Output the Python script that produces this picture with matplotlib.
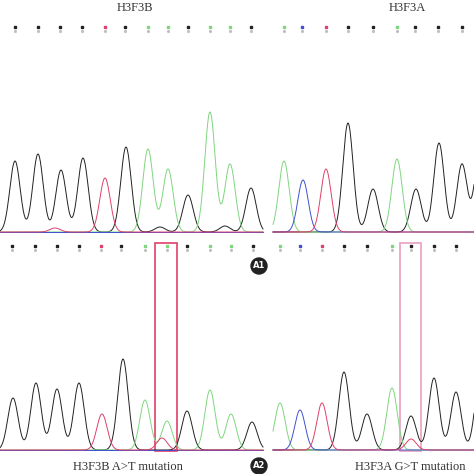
import numpy as np
import matplotlib
matplotlib.use("Agg")
import matplotlib.pyplot as plt
from matplotlib.patches import Rectangle, Circle

COL = {"k": "#222222", "r": "#e0406a", "g": "#7fd67f", "b": "#4050d0"}

# ── base-call dots (x, colour) ────────────────────────────────────────────────
dots1 = [(15,"k"),(38,"k"),(60,"k"),(82,"k"),(105,"r"),(125,"k"),(148,"g"),(168,"g"),(188,"k"),(210,"g"),(230,"g"),(251,"k"),
         (284,"g"),(302,"b"),(326,"r"),(348,"k"),(373,"k"),(397,"g"),(415,"k"),(438,"k"),(462,"k")]
dots2 = [(12,"k"),(35,"k"),(57,"k"),(79,"k"),(101,"r"),(121,"k"),(145,"g"),(167,"g"),(187,"k"),(210,"g"),(231,"g"),(253,"k"),
         (280,"g"),(300,"b"),(322,"r"),(344,"k"),(367,"k"),(392,"g"),(411,"k"),(434,"k"),(456,"k")]

# ── peaks (x, peak-top y in pixels, colour) ───────────────────────────────────
peaks1_left = [(15,162,"k"),(38,155,"k"),(61,171,"k"),(83,159,"k"),(105,179,"r"),(126,148,"k"),(148,150,"g"),
               (168,170,"g"),(188,196,"k"),(210,113,"g"),(230,165,"g"),(251,189,"k"),(55,229,"r"),(160,228,"k"),(225,227,"k")]
peaks1_right = [(284,162,"g"),(303,181,"b"),(326,170,"r"),(348,124,"k"),(373,190,"k"),(397,160,"g"),(416,190,"k"),
                (439,144,"k"),(462,165,"k"),(480,150,"k")]
peaks2_left = [(13,399,"k"),(36,384,"k"),(57,390,"k"),(79,384,"k"),(102,415,"r"),(123,360,"k"),(145,401,"g"),
               (167,422,"g"),(162,439,"r"),(187,412,"k"),(210,391,"g"),(231,415,"g"),(252,423,"k")]
peaks2_right = [(280,404,"g"),(300,411,"b"),(322,404,"r"),(344,373,"k"),(367,415,"k"),(392,389,"g"),(411,417,"k"),
                (411,440,"r"),(434,379,"k"),(456,393,"k"),(480,380,"k")]

fig = plt.figure(figsize=(4.74, 4.74), dpi=100)
ax = fig.add_axes([0, 0, 1, 1])
ax.set_xlim(0, 474)
ax.set_ylim(474, 0)
ax.axis("off")

def trace(peaks, x0, x1, base, sigma=5.2):
    x = np.linspace(x0, x1, 600)
    for c in "kgbr":
        y = np.zeros_like(x)
        for px, py, pc in peaks:
            if pc == c:
                y += (base - py) * np.exp(-0.5 * ((x - px) / sigma) ** 2)
        ax.plot(x, base - 1 - y, color=COL[c], lw=0.7)

trace(peaks1_left, 0, 263, 233)
trace(peaks1_right, 273, 474, 233)
trace(peaks2_left, 0, 263, 451)
trace(peaks2_right, 273, 474, 451)

for dots, yy in ((dots1, 27), (dots2, 246)):
    for x, c in dots:
        ax.plot(x, yy, "s", ms=1.8, color=COL[c])
        ax.plot(x, yy + 4, "s", ms=1.0, color="#bbbbbb")

ax.add_patch(Rectangle((155, 243), 22, 208, fill=False, ec="#e0406a", lw=1.2))
ax.add_patch(Rectangle((400, 243), 21, 208, fill=False, ec="#e8a0c0", lw=1.2))

for cy, lab in ((266, "A1"), (466, "A2")):
    ax.add_patch(Circle((259, cy), 8, color="#222222"))
    ax.text(259, cy, lab, color="white", fontsize=6, ha="center", va="center", fontweight="bold")

ser = "Liberation Serif"
ax.text(135, 8, "H3F3B", family=ser, fontsize=9, ha="center", va="center", color="#333333")
ax.text(407, 8, "H3F3A", family=ser, fontsize=9, ha="center", va="center", color="#333333")
ax.text(128, 467, "H3F3B A>T mutation", family=ser, fontsize=9, ha="center", va="center", color="#333333")
ax.text(410, 467, "H3F3A G>T mutation", family=ser, fontsize=9, ha="center", va="center", color="#333333")

fig.savefig("out.png", dpi=100)
